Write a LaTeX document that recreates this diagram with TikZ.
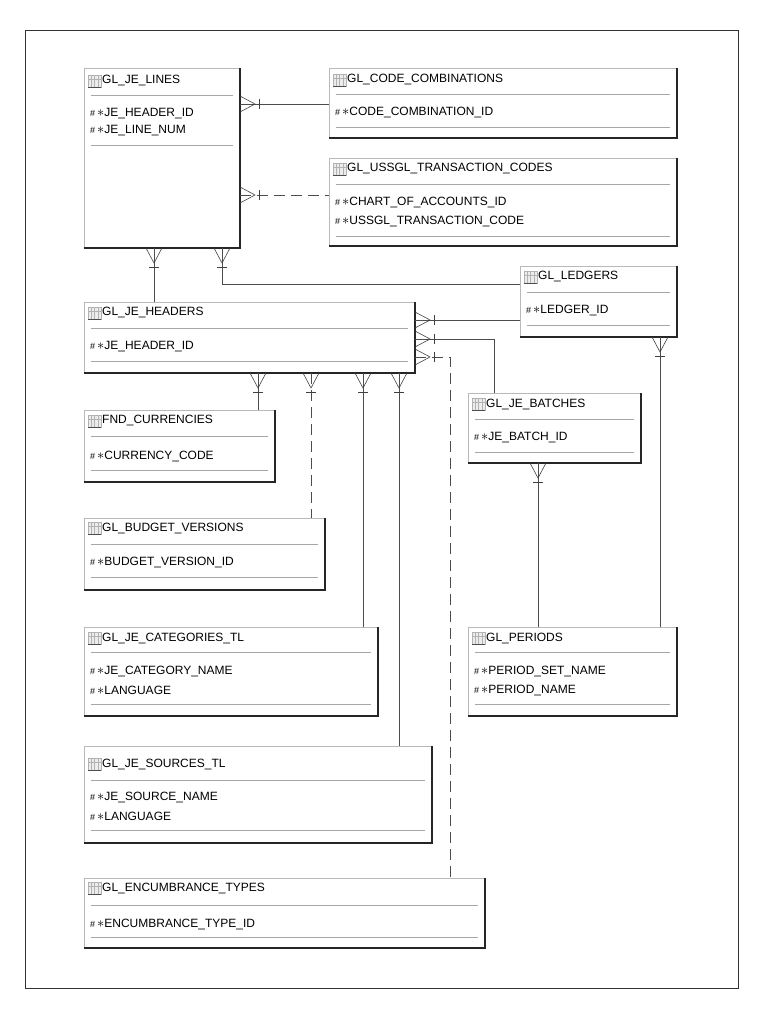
\documentclass[tikz,border=0pt]{standalone}
\usepackage{fontspec}
\setmainfont{Liberation Sans}
\begin{document}
\begin{tikzpicture}[x=1pt,y=-1pt,
  ent/.style={draw=gray!55,fill=white,inner sep=0pt,anchor=north west},
  shd/.style={line width=1.4pt,black!85},
  sep/.style={draw=gray!70,line width=0.5pt},
  txt/.style={anchor=west,inner sep=0pt,font=\fontsize{12}{14}\selectfont},
  rel/.style={draw=black!70,line width=0.6pt},
  opt/.style={rel,dash pattern=on 11pt off 6pt}]
\useasboundingbox (0,0) rectangle (768,1024);
\draw[black!80] (25,30) rectangle (738,988);
\newcommand\ent[7]{% name x1 y1 x2 y2 title titley
  \node[ent,minimum width={#4-#2},minimum height={#5-#3}] (#1) at (#2,#3) {};
  \draw[shd] (#4,#3) -- (#4,#5) -- (#2,#5);
  \draw[gray!60,fill=gray!15] (#2+4,#7-6) rectangle (#2+17,#7+6);
  \foreach \i in {1,2,3}{\draw[gray!60] (#2+4+\i*3.3,#7-6)--(#2+4+\i*3.3,#7+6);}
  \draw[gray!60] (#2+4,#7-2)--(#2+17,#7-2);
  \draw[black!70,line width=0.9pt] (#2+4,#7+6)--(#2+17,#7+6);
  \node[txt] (#1-t) at (#2+18,#7) {#6};}
\newcommand\fld[4]{% name x y text
  \node[txt] (#1) at (#2+6,#3) {{\fontsize{9}{9}\selectfont\#}\,{\fontsize{15}{10}\selectfont$\ast$}#4};}
\newcommand\sepl[3]{\draw[sep] (#1+7,#3)--(#2-7,#3);}
\newcommand\crow[2]{\begin{scope}[shift={(#1)},rotate=#2]
  \draw[black!75,line width=0.6pt] (0,-8)--(15,0)--(0,8); \draw[black!75,line width=0.6pt] (19,-5)--(19,5);\end{scope}}
% entities
\ent{lines}{84}{68}{240}{248}{GL\_JE\_LINES}{81}
\sepl{84}{240}{95}\fld{f1}{84}{114}{JE\_HEADER\_ID}\fld{f2}{84}{131}{JE\_LINE\_NUM}\sepl{84}{240}{145}
\ent{cc}{329}{68}{677}{138}{GL\_CODE\_COMBINATIONS}{80}
\sepl{329}{677}{94}\fld{f3}{329}{113}{CODE\_COMBINATION\_ID}\sepl{329}{677}{127}
\ent{us}{329}{158}{677}{246}{GL\_USSGL\_TRANSACTION\_CODES}{169}
\sepl{329}{677}{184}\fld{f4}{329}{203}{CHART\_OF\_ACCOUNTS\_ID}\fld{f5}{329}{222}{USSGL\_TRANSACTION\_CODE}\sepl{329}{677}{236}
\ent{led}{520}{266}{677}{337}{GL\_LEDGERS}{277}
\sepl{520}{677}{292}\fld{f6}{520}{311}{LEDGER\_ID}\sepl{520}{677}{325}
\ent{hdr}{84}{302}{415}{373}{GL\_JE\_HEADERS}{313}
\sepl{84}{415}{328}\fld{f7}{84}{347}{JE\_HEADER\_ID}\sepl{84}{415}{361}
\ent{cur}{84}{410}{275}{482}{FND\_CURRENCIES}{421}
\sepl{84}{275}{436}\fld{f8}{84}{456}{CURRENCY\_CODE}\sepl{84}{275}{470}
\ent{bud}{84}{518}{325}{590}{GL\_BUDGET\_VERSIONS}{528}
\sepl{84}{325}{544}\fld{f9}{84}{562}{BUDGET\_VERSION\_ID}\sepl{84}{325}{577}
\ent{cat}{84}{627}{378}{716}{GL\_JE\_CATEGORIES\_TL}{638}
\sepl{84}{378}{652}\fld{f10}{84}{671}{JE\_CATEGORY\_NAME}\fld{f11}{84}{690}{LANGUAGE}\sepl{84}{378}{704}
\ent{src}{84}{746}{432}{843}{GL\_JE\_SOURCES\_TL}{764}
\sepl{84}{432}{780}\fld{f12}{84}{797}{JE\_SOURCE\_NAME}\fld{f13}{84}{816}{LANGUAGE}\sepl{84}{432}{830}
\ent{enc}{84}{878}{485}{948}{GL\_ENCUMBRANCE\_TYPES}{888}
\sepl{84}{485}{905}\fld{f14}{84}{924}{ENCUMBRANCE\_TYPE\_ID}\sepl{84}{485}{937}
\ent{bat}{468}{393}{641}{463}{GL\_JE\_BATCHES}{404}
\sepl{468}{641}{419}\fld{f15}{468}{437}{JE\_BATCH\_ID}\sepl{468}{641}{452}
\ent{per}{468}{627}{677}{716}{GL\_PERIODS}{638}
\sepl{468}{677}{652}\fld{f16}{468}{671}{PERIOD\_SET\_NAME}\fld{f17}{468}{690}{PERIOD\_NAME}\sepl{468}{677}{704}
% connectors
\draw[rel] (lines.east |- 0,104) -- (cc.west |- 0,104); \crow{240,104}{0}
\draw[opt] (lines.east |- 0,195) -- (us.west |- 0,195); \crow{240,195}{0}
\draw[rel] (154,0 |- lines.south) -- (154,0 |- hdr.north); \crow{154,248}{-90}
\draw[rel] (222,0 |- lines.south) -- (222,284) -- (led.west |- 0,284); \crow{222,248}{-90}
\draw[rel] (hdr.east |- 0,320) -- (led.west |- 0,320); \crow{415,320}{0}
\draw[rel] (hdr.east |- 0,339) -- (494,339) -- (494,0 |- bat.north); \crow{415,339}{0}
\draw[opt] (hdr.east |- 0,357) -- (450,357) -- (450,0 |- enc.north); \crow{415,357}{0}
\draw[rel] (258,0 |- hdr.south) -- (258,0 |- cur.north); \crow{258,373}{-90}
\draw[opt] (311,0 |- hdr.south) -- (311,0 |- bud.north); \crow{311,373}{-90}
\draw[rel] (363,0 |- hdr.south) -- (363,0 |- cat.north); \crow{363,373}{-90}
\draw[rel] (399,0 |- hdr.south) -- (399,0 |- src.north); \crow{399,373}{-90}
\draw[rel] (538,0 |- bat.south) -- (538,0 |- per.north); \crow{538,463}{-90}
\draw[rel] (660,0 |- led.south) -- (660,0 |- per.north); \crow{660,337}{-90}
\end{tikzpicture}
\end{document}
